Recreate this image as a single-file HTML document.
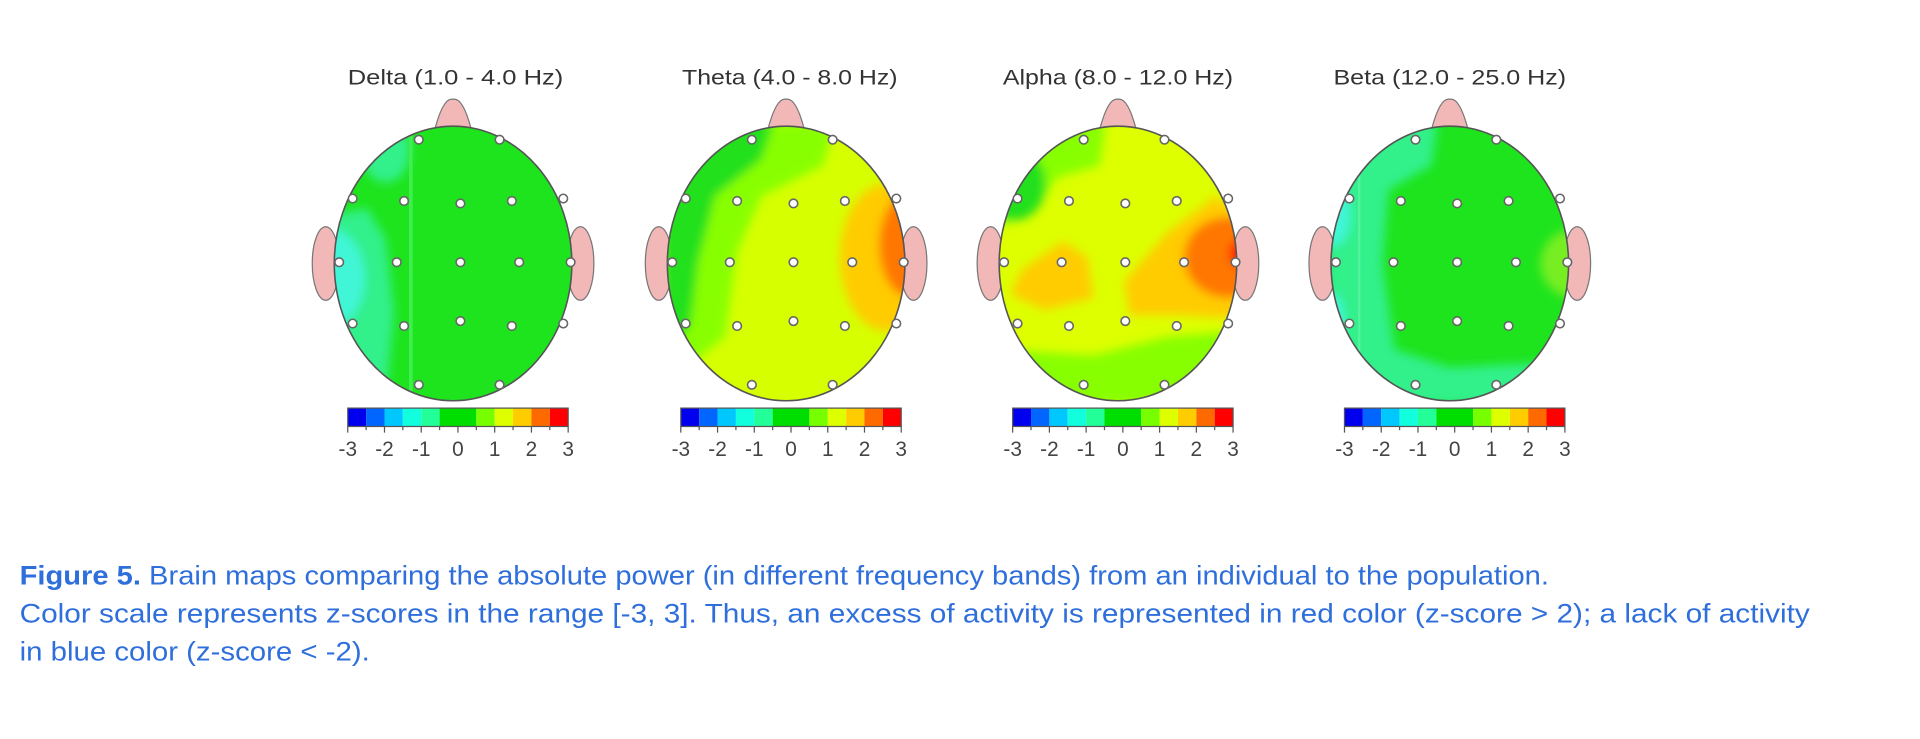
<!DOCTYPE html>
<html><head><meta charset="utf-8"><style>
html,body{margin:0;padding:0;background:#fff;width:1920px;height:739px;overflow:hidden}
svg{display:block}
</style></head><body>
<svg width="1920" height="739" viewBox="0 0 1568 603" preserveAspectRatio="none" xmlns="http://www.w3.org/2000/svg">
<defs>
<clipPath id="hc"><ellipse cx="0" cy="0" rx="97" ry="112"/></clipPath>
<filter id="bl" x="-50%" y="-50%" width="200%" height="200%"><feGaussianBlur stdDeviation="4"/></filter>
<g id="ears">
<path d="M-15,-109 Q-8,-136 0,-134 Q8,-136 15,-109 Z" fill="#f2b8b8" stroke="#777" stroke-width="1"/>
<ellipse cx="-104" cy="0" rx="11" ry="30" fill="#f2b8b8" stroke="#777"/>
<ellipse cx="104" cy="0" rx="11" ry="30" fill="#f2b8b8" stroke="#777"/>
</g>
<g id="el" fill="#fff" stroke="#666" stroke-width="1.3">
<circle cx="-28" cy="-101" r="3.5"/><circle cx="38" cy="-101" r="3.5"/>
<circle cx="-82" cy="-53" r="3.5"/><circle cx="-40" cy="-51" r="3.5"/><circle cx="6" cy="-49" r="3.5"/><circle cx="48" cy="-51" r="3.5"/><circle cx="90" cy="-53" r="3.5"/>
<circle cx="-93" cy="-1" r="3.5"/><circle cx="-46" cy="-1" r="3.5"/><circle cx="6" cy="-1" r="3.5"/><circle cx="54" cy="-1" r="3.5"/><circle cx="96" cy="-1" r="3.5"/>
<circle cx="-82" cy="49" r="3.5"/><circle cx="-40" cy="51" r="3.5"/><circle cx="6" cy="47" r="3.5"/><circle cx="48" cy="51" r="3.5"/><circle cx="90" cy="49" r="3.5"/>
<circle cx="-28" cy="99" r="3.5"/><circle cx="38" cy="99" r="3.5"/>
</g>
<g id="cb">
<rect x="-86" y="118" width="15" height="15" fill="#0000ee"/>
<rect x="-71" y="118" width="15" height="15" fill="#0066ff"/>
<rect x="-56" y="118" width="15" height="15" fill="#00c8ff"/>
<rect x="-41" y="118" width="15" height="15" fill="#11ffdd"/>
<rect x="-26" y="118" width="15" height="15" fill="#22ff99"/>
<rect x="-11" y="118" width="30" height="15" fill="#00dd00"/>
<rect x="19" y="118" width="15" height="15" fill="#77ff00"/>
<rect x="34" y="118" width="15" height="15" fill="#ddff00"/>
<rect x="49" y="118" width="15" height="15" fill="#ffcc00"/>
<rect x="64" y="118" width="15" height="15" fill="#ff6a00"/>
<rect x="79" y="118" width="15" height="15" fill="#ff0000"/>
<rect x="-86" y="118" width="180" height="15" fill="none" stroke="#555"/>
<path d="M-86,133v5M-71,133v3M-56,133v5M-41,133v3M-26,133v5M-11,133v3M4,133v5M19,133v3M34,133v5M49,133v3M64,133v5M79,133v3M94,133v5" stroke="#555"/>
<g font-family="Liberation Sans, sans-serif" font-size="17" fill="#444" text-anchor="middle">
<text x="-86" y="157">-3</text><text x="-56" y="157">-2</text><text x="-26" y="157">-1</text><text x="4" y="157">0</text><text x="34" y="157">1</text><text x="64" y="157">2</text><text x="94" y="157">3</text>
</g>
</g>
</defs>

<g font-family="Liberation Sans, sans-serif" font-size="17" fill="#333" text-anchor="middle">
<text x="372" y="69" textLength="176" lengthAdjust="spacingAndGlyphs">Delta (1.0 - 4.0 Hz)</text>
<text x="645" y="69" textLength="176" lengthAdjust="spacingAndGlyphs">Theta (4.0 - 8.0 Hz)</text>
<text x="913" y="69" textLength="188" lengthAdjust="spacingAndGlyphs">Alpha (8.0 - 12.0 Hz)</text>
<text x="1184" y="69" textLength="190" lengthAdjust="spacingAndGlyphs">Beta (12.0 - 25.0 Hz)</text>
</g>

<!-- Delta -->
<g transform="translate(370,215)">
<use href="#ears"/>
<g clip-path="url(#hc)">
<rect x="-100" y="-115" width="200" height="230" fill="#1ee41e"/>
<g filter="url(#bl)">
<path d="M-100,-40 L-70,-45 L-55,-20 L-48,40 L-55,110 L-100,110 Z" fill="#33f08a"/>
<ellipse cx="-100" cy="12" rx="28" ry="40" fill="#3ff6d6"/>
<ellipse cx="-55" cy="-92" rx="20" ry="26" fill="#33f08a"/>
</g>
<rect x="-36" y="-115" width="3" height="230" fill="#40ee50"/>
</g>
<ellipse cx="0" cy="0" rx="97" ry="112" fill="none" stroke="#555" stroke-width="1.3"/>
<use href="#el"/>
<use href="#cb"/>
</g>

<!-- Theta -->
<g transform="translate(642,215)">
<use href="#ears"/>
<g clip-path="url(#hc)">
<rect x="-100" y="-115" width="200" height="230" fill="#d6ff00"/>
<g filter="url(#bl)">
<path d="M-100,-115 L40,-115 L30,-80 L-20,-55 L-40,-10 L-50,60 L-100,100 Z" fill="#88ff00"/>
<path d="M-100,-115 L-10,-115 L-20,-85 L-58,-55 L-72,0 L-78,50 L-100,80 Z" fill="#22e01a"/>
<ellipse cx="82" cy="-5" rx="38" ry="60" fill="#ffcc00"/>
<ellipse cx="100" cy="-15" rx="24" ry="42" fill="#ff7700"/>
</g>
</g>
<ellipse cx="0" cy="0" rx="97" ry="112" fill="none" stroke="#555" stroke-width="1.3"/>
<use href="#el"/>
<use href="#cb"/>
</g>

<!-- Alpha -->
<g transform="translate(913,215)">
<use href="#ears"/>
<g clip-path="url(#hc)">
<rect x="-100" y="-115" width="200" height="230" fill="#ddff00"/>
<g filter="url(#bl)">
<path d="M-100,-115 L-10,-115 L-15,-80 L-50,-70 L-70,-40 L-100,-30 Z" fill="#88ff00"/>
<ellipse cx="-85" cy="-65" rx="26" ry="30" fill="#22e01a"/>
<path d="M-100,70 L-20,75 L40,60 L100,55 L100,115 L-100,115 Z" fill="#88ff00"/>
<path d="M-78,5 L-45,-18 L-25,-5 L-20,28 L-60,38 L-88,25 Z" fill="#ffcc00"/>
<path d="M5,15 L40,-25 L80,-55 L100,-40 L100,45 L50,42 L10,42 Z" fill="#ffcc00"/>
<ellipse cx="90" cy="-5" rx="36" ry="33" fill="#ff7700"/>
<ellipse cx="100" cy="-8" rx="9" ry="11" fill="#ff1100"/>
</g>
</g>
<ellipse cx="0" cy="0" rx="97" ry="112" fill="none" stroke="#555" stroke-width="1.3"/>
<use href="#el"/>
<use href="#cb"/>
</g>

<!-- Beta -->
<g transform="translate(1184,215)">
<use href="#ears"/>
<g clip-path="url(#hc)">
<rect x="-100" y="-115" width="200" height="230" fill="#1ee41e"/>
<g filter="url(#bl)">
<path d="M-100,-115 L-10,-115 L-15,-80 L-50,-60 L-55,0 L-45,70 L0,85 L100,80 L100,115 L-100,115 Z" fill="#33f08a"/>
<ellipse cx="-95" cy="-40" rx="14" ry="26" fill="#3ff6d6"/>
<ellipse cx="-96" cy="45" rx="10" ry="20" fill="#3ff6d6"/>
<ellipse cx="102" cy="0" rx="28" ry="28" fill="#77ee22"/>
</g>
<rect x="-75" y="-115" width="2" height="230" fill="#55f2a0"/>
</g>
<ellipse cx="0" cy="0" rx="97" ry="112" fill="none" stroke="#555" stroke-width="1.3"/>
<use href="#el"/>
<use href="#cb"/>
</g>

<g font-family="Liberation Sans, sans-serif" font-size="22" fill="#2f6fdc">
<text x="16" y="477" textLength="1249" lengthAdjust="spacingAndGlyphs"><tspan font-weight="bold">Figure 5.</tspan> Brain maps comparing the absolute power (in different frequency bands) from an individual to the population.</text>
<text x="16" y="508" textLength="1462" lengthAdjust="spacingAndGlyphs">Color scale represents z-scores in the range [-3, 3]. Thus, an excess of activity is represented in red color (z-score &gt; 2); a lack of activity</text>
<text x="16" y="539" textLength="286" lengthAdjust="spacingAndGlyphs">in blue color (z-score &lt; -2).</text>
</g>
</svg>
</body></html>
